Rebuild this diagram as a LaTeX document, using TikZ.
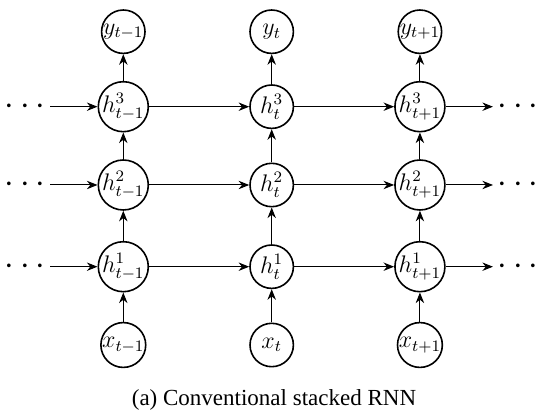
\documentclass[tikz,border=0pt]{standalone}
\usepackage{fontspec}
\newfontfamily\capfont{Liberation Serif}
\usetikzlibrary{arrows.meta}
\tikzset{
  unit/.style={circle, draw, line width=0.8pt, minimum size=21.7pt, inner sep=0pt, font=\large},
  arrow/.style={-{Stealth[length=5.3pt, width=4.2pt, inset=1.7pt]}, line width=0.5pt},
  ellip/.style={inner sep=0pt, font=\LARGE}
}
\begin{document}
\begin{tikzpicture}
  \useasboundingbox (0,0) rectangle (9.631,7.381);
  % Outputs
  \node[unit] (yprev) at (2.167,6.824) {$y_{t-1}$};
  \node[unit] (ynow)  at (4.775,6.824) {$y_t$};
  \node[unit] (ynext) at (7.380,6.824) {$y_{t+1}$};
  
  % Hidden layers
  \node[unit] (h3prev) at (2.167,5.506) {$h^3_{t-1}$};
  \node[unit] (h3now)  at (4.775,5.506) {$h^3_t$};
  \node[unit] (h3next) at (7.380,5.506) {$h^3_{t+1}$};
  
  \node[unit] (h2prev) at (2.167,4.130) {$h^2_{t-1}$};
  \node[unit] (h2now)  at (4.775,4.130) {$h^2_t$};
  \node[unit] (h2next) at (7.380,4.130) {$h^2_{t+1}$};
  
  \node[unit] (h1prev) at (2.167,2.694) {$h^1_{t-1}$};
  \node[unit] (h1now)  at (4.775,2.694) {$h^1_t$};
  \node[unit] (h1next) at (7.380,2.694) {$h^1_{t+1}$};
  
  % Inputs
  \node[unit] (xprev) at (2.167,1.318) {$x_{t-1}$};
  \node[unit] (xnow)  at (4.775,1.318) {$x_t$};
  \node[unit] (xnext) at (7.380,1.318) {$x_{t+1}$};
  
  % Ellipses and free ends (Left / Right)
  \node[ellip] (d3l) at (0.440,5.506) {$\cdots$};
  \node[ellip] (d2l) at (0.440,4.130) {$\cdots$};
  \node[ellip] (d1l) at (0.440,2.694) {$\cdots$};
  \node[ellip] (d3r) at (9.104,5.506) {$\cdots$};
  \node[ellip] (d2r) at (9.104,4.130) {$\cdots$};
  \node[ellip] (d1r) at (9.104,2.694) {$\cdots$};
  \coordinate (in3) at (0.879,5.506);
  \coordinate (in2) at (0.879,4.130);
  \coordinate (in1) at (0.879,2.694);
  \coordinate (out3) at (8.664,5.506);
  \coordinate (out2) at (8.664,4.130);
  \coordinate (out1) at (8.664,2.694);
  
  % Recurrent connections
  \draw[arrow] (in3) -- (h3prev);
  \draw[arrow] (h3prev) -- (h3now);
  \draw[arrow] (h3now) -- (h3next);
  \draw[arrow] (h3next) -- (out3);
  \draw[arrow] (in2) -- (h2prev);
  \draw[arrow] (h2prev) -- (h2now);
  \draw[arrow] (h2now) -- (h2next);
  \draw[arrow] (h2next) -- (out2);
  \draw[arrow] (in1) -- (h1prev);
  \draw[arrow] (h1prev) -- (h1now);
  \draw[arrow] (h1now) -- (h1next);
  \draw[arrow] (h1next) -- (out1);
  
  % Vertical connections
  \draw[arrow] (xprev) -- (h1prev);
  \draw[arrow] (h1prev) -- (h2prev);
  \draw[arrow] (h2prev) -- (h3prev);
  \draw[arrow] (h3prev) -- (yprev);
  \draw[arrow] (xnow) -- (h1now);
  \draw[arrow] (h1now) -- (h2now);
  \draw[arrow] (h2now) -- (h3now);
  \draw[arrow] (h3now) -- (ynow);
  \draw[arrow] (xnext) -- (h1next);
  \draw[arrow] (h1next) -- (h2next);
  \draw[arrow] (h2next) -- (h3next);
  \draw[arrow] (h3next) -- (ynext);
  
  % Caption
  \node[font=\capfont\fontsize{11.5}{14}\selectfont] (caption) at (4.815,0.351) {(a) Conventional stacked RNN};
\end{tikzpicture}
\end{document}
